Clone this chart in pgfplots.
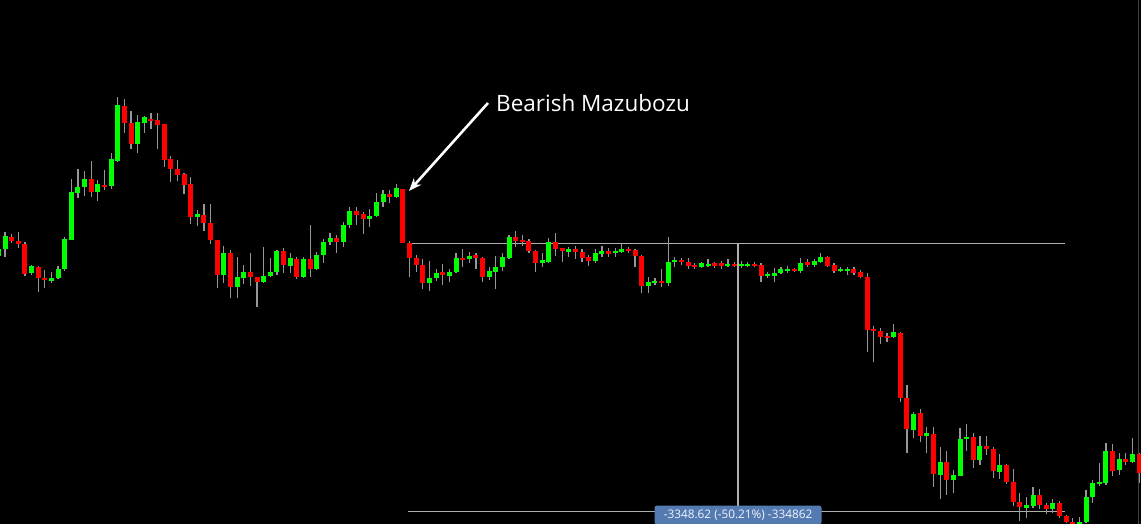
\documentclass[border=0pt]{standalone}
\usepackage{pgfplots}
\pgfplotsset{compat=1.18}
\usepackage{pgfplotstable}
\usetikzlibrary{arrows.meta}
\usepackage{fontspec}
\setmainfont{Open Sans}

\definecolor{bull}{RGB}{0,255,0}
\definecolor{bear}{RGB}{255,0,0}
\definecolor{wick}{RGB}{150,150,150}
\definecolor{guide}{RGB}{175,175,175}
\definecolor{tagbg}{RGB}{84,122,178}

% candles, in pixels from the top
% i = bar number, bt/bb = body top/bottom, wt/wb = wick top/bottom
\pgfplotstableread{
i bt bb wt wb
0 249 256 247 258
1 236 249 232 257
5 266 273 265 275
8 278 281 272 283
9 269 278 266 279
10 239 269 237 271
11 192 240 179 240
12 187 193 169 198
13 179 187 171 196
15 184 192 180 201
17 159 186 153 189
18 105 161 97 162
21 122 144 115 153
22 117 123 116 133
30 214 217 210 226
34 253 275 246 283
36 277 287 257 298
37 272 278 265 284
40 276 282 247 283
41 272 276 258 277
42 251 272 250 275
44 258 266 253 273
46 259 277 257 278
48 255 269 252 270
49 242 255 239 263
50 238 242 233 245
52 225 242 222 247
53 211 225 207 228
56 216 219 209 227
57 202 216 193 217
58 194 202 190 207
60 188 197 184 198
65 278 283 261 291
66 273 278 269 281
68 272 276 269 282
69 258 272 253 273
71 256 259 252 263
74 271 277 267 280
75 267 272 256 289
76 257 267 253 271
77 237 258 235 259
82 260 263 253 267
83 242 262 238 263
86 249 252 247 257
90 253 261 249 263
91 251 254 246 257
93 251 253 248 257
94 249 252 244 253
98 282 286 277 293
99 281 283 278 285
101 262 283 237 286
102 260 262 257 267
106 263 267 262 268
107 264 265.5 259 267
110 264 266 259 267
112 264 265.5 261 268
113 264 265.5 262 267
116 274 275.5 272 278
117 273 276 268 282
118 269 273 267 274
119 269 270.5 266 273
121 263 271 258 273
123 261 265 259 267
124 257 262 253 263
127 269 271 267 272
128 269 270.5 267 275
135 332 337 324 338
138 414 430 412 438
140 433 436 427 453
142 462 475 447 499
144 475 480 470 493
145 439 476 428 476
146 437 439 424 451
148 446 460 436 465
151 465 472 454 479
155 505 508 497 518
156 495 506 487 508
159 503 509 499 513
163 522 524 517 524
164 497 522 490 523
165 483 497 480 503
166 482 484 463 486
167 451 483 443 485
169 459 470 453 475
171 454 462 438 463
}\bulls

\pgfplotstableread{
i bt bb wt wb
2 237 241 234 243
3 241 244 232 248
4 244 274 242 276
6 267 278 266 292
7 278 280 270 288
14 179 192 161 197
16 185 187 170 190
19 106 123 99 133
20 123 144 111 149
23 119 121 113 129
24 120 125 113 149
25 124 160 124 167
26 159 169 156 182
27 169 175 160 181
28 174 185 173 194
29 184 217 177 224
31 215 223 204 231
32 223 240 204 244
33 240 275 240 288
35 253 287 250 298
38 272 277 253 286
39 277 282 277 307
43 251 265 248 273
45 259 277 257 279
47 259 269 225 277
51 238 242 235 253
54 211 215 207 225
55 214 219 212 234
59 194 197 190 203
61 189 243 189 243
62 243 258 241 277
63 258 265 255 272
64 265 283 259 289
67 272 275 264 285
70 258 260 249 267
72 255 258 253 269
73 258 277 257 282
78 237 241 231 247
79 240 241.5 235 246
80 241 251 239 253
81 251 263 250 272
84 242 249 233 256
85 248 251 248 262
87 249 252 246 259
88 252 258 249 262
89 257 261 255 266
92 251 254 248 257
95 249 251 247 253
96 250 256 249 267
97 256 286 255 293
100 281 283 269 287
103 260 262 258 265
104 262 266 258 269
105 265 267 263 269
108 263 266 262 268
109 263 266 261 269
111 264 266 262 267
114 264 265.5 262 267
115 265 276 263 282
120 269 271 268 272
122 262 265 259 267
125 257 266 256 267
126 265 271 263 273
129 269 273 267 275
130 272 277 270 278
131 277 330 273 352
132 329 331 326 362
133 331 337 328 344
134 336 337.5 333 342
136 333 398 332 402
137 398 429 385 453
139 413 436 409 442
141 434 474 427 487
143 462 480 451 495
147 437 460 433 468
149 446 449 436 455
150 449 471 447 478
152 465 482 464 484
153 482 502 469 506
154 502 507 493 521
157 495 505 489 509
158 505 509 503 514
160 503 516 501 518
161 516 522 515 523
162 522 524 518 524
168 451 471 444 476
170 459 462 453 465
172 454 473 453 483
}\bears

\pgfplotsset{
  wickbar/.style={draw=wick, line width=1.2pt, mark=none, -,
    quiver={u=0, v={\thisrow{wb}-\thisrow{wt}}}},
  bodybar/.style={draw=#1, line width=5pt, mark=none, -,
    quiver={u=0, v={\thisrow{bb}-\thisrow{bt}}}},
}

\begin{document}
\begin{tikzpicture}
\begin{axis}[
    scale only axis,
    width=1141pt, height=524pt,
    xmin=0, xmax=1141, ymin=0, ymax=524,
    y dir=reverse,
    ticks=none,
    axis line style={draw=none},
    axis background/.style={fill=black},
  ]
  % measuring guides
  \addplot[guide, line width=1.3pt] coordinates {(408,243.5) (1065,243.5)};
  \addplot[guide, line width=1.3pt] coordinates {(408,511.5) (1065,511.5)};
  \addplot[guide, line width=1.3pt] coordinates {(738,243.5) (738,506)};
  \addplot[black!75!white, line width=1pt] coordinates {(1138.5,0) (1138.5,524)};

  % wicks
  \addplot[wickbar] table[x expr=-1.6+6.632*\thisrow{i}, y=wt] {\bulls};
  \addplot[wickbar] table[x expr=-1.6+6.632*\thisrow{i}, y=wt] {\bears};
  % bodies
  \addplot[bodybar=bull] table[x expr=-1.6+6.632*\thisrow{i}, y=bt] {\bulls};
  \addplot[bodybar=bear] table[x expr=-1.6+6.632*\thisrow{i}, y=bt] {\bears};

  \node[anchor=base west, text=white, inner sep=0pt,
        font=\fontsize{22.5}{22.5}\selectfont]
        at (axis cs:496,112) {Bearish Mazubozu};
  \draw[white, line width=2.6pt, -{Stealth[length=13pt, width=10pt]}]
        (axis cs:488,103) -- (axis cs:409,191);

  \node[fill=tagbg, rounded corners=2.5pt, text=white!92!tagbg,
        minimum width=167pt, minimum height=19pt, inner sep=0pt,
        font=\fontsize{11.8}{11.8}\selectfont]
        at (axis cs:738,515) {-3348.62 (-50.21\%) -334862};
\end{axis}
\end{tikzpicture}
\end{document}
